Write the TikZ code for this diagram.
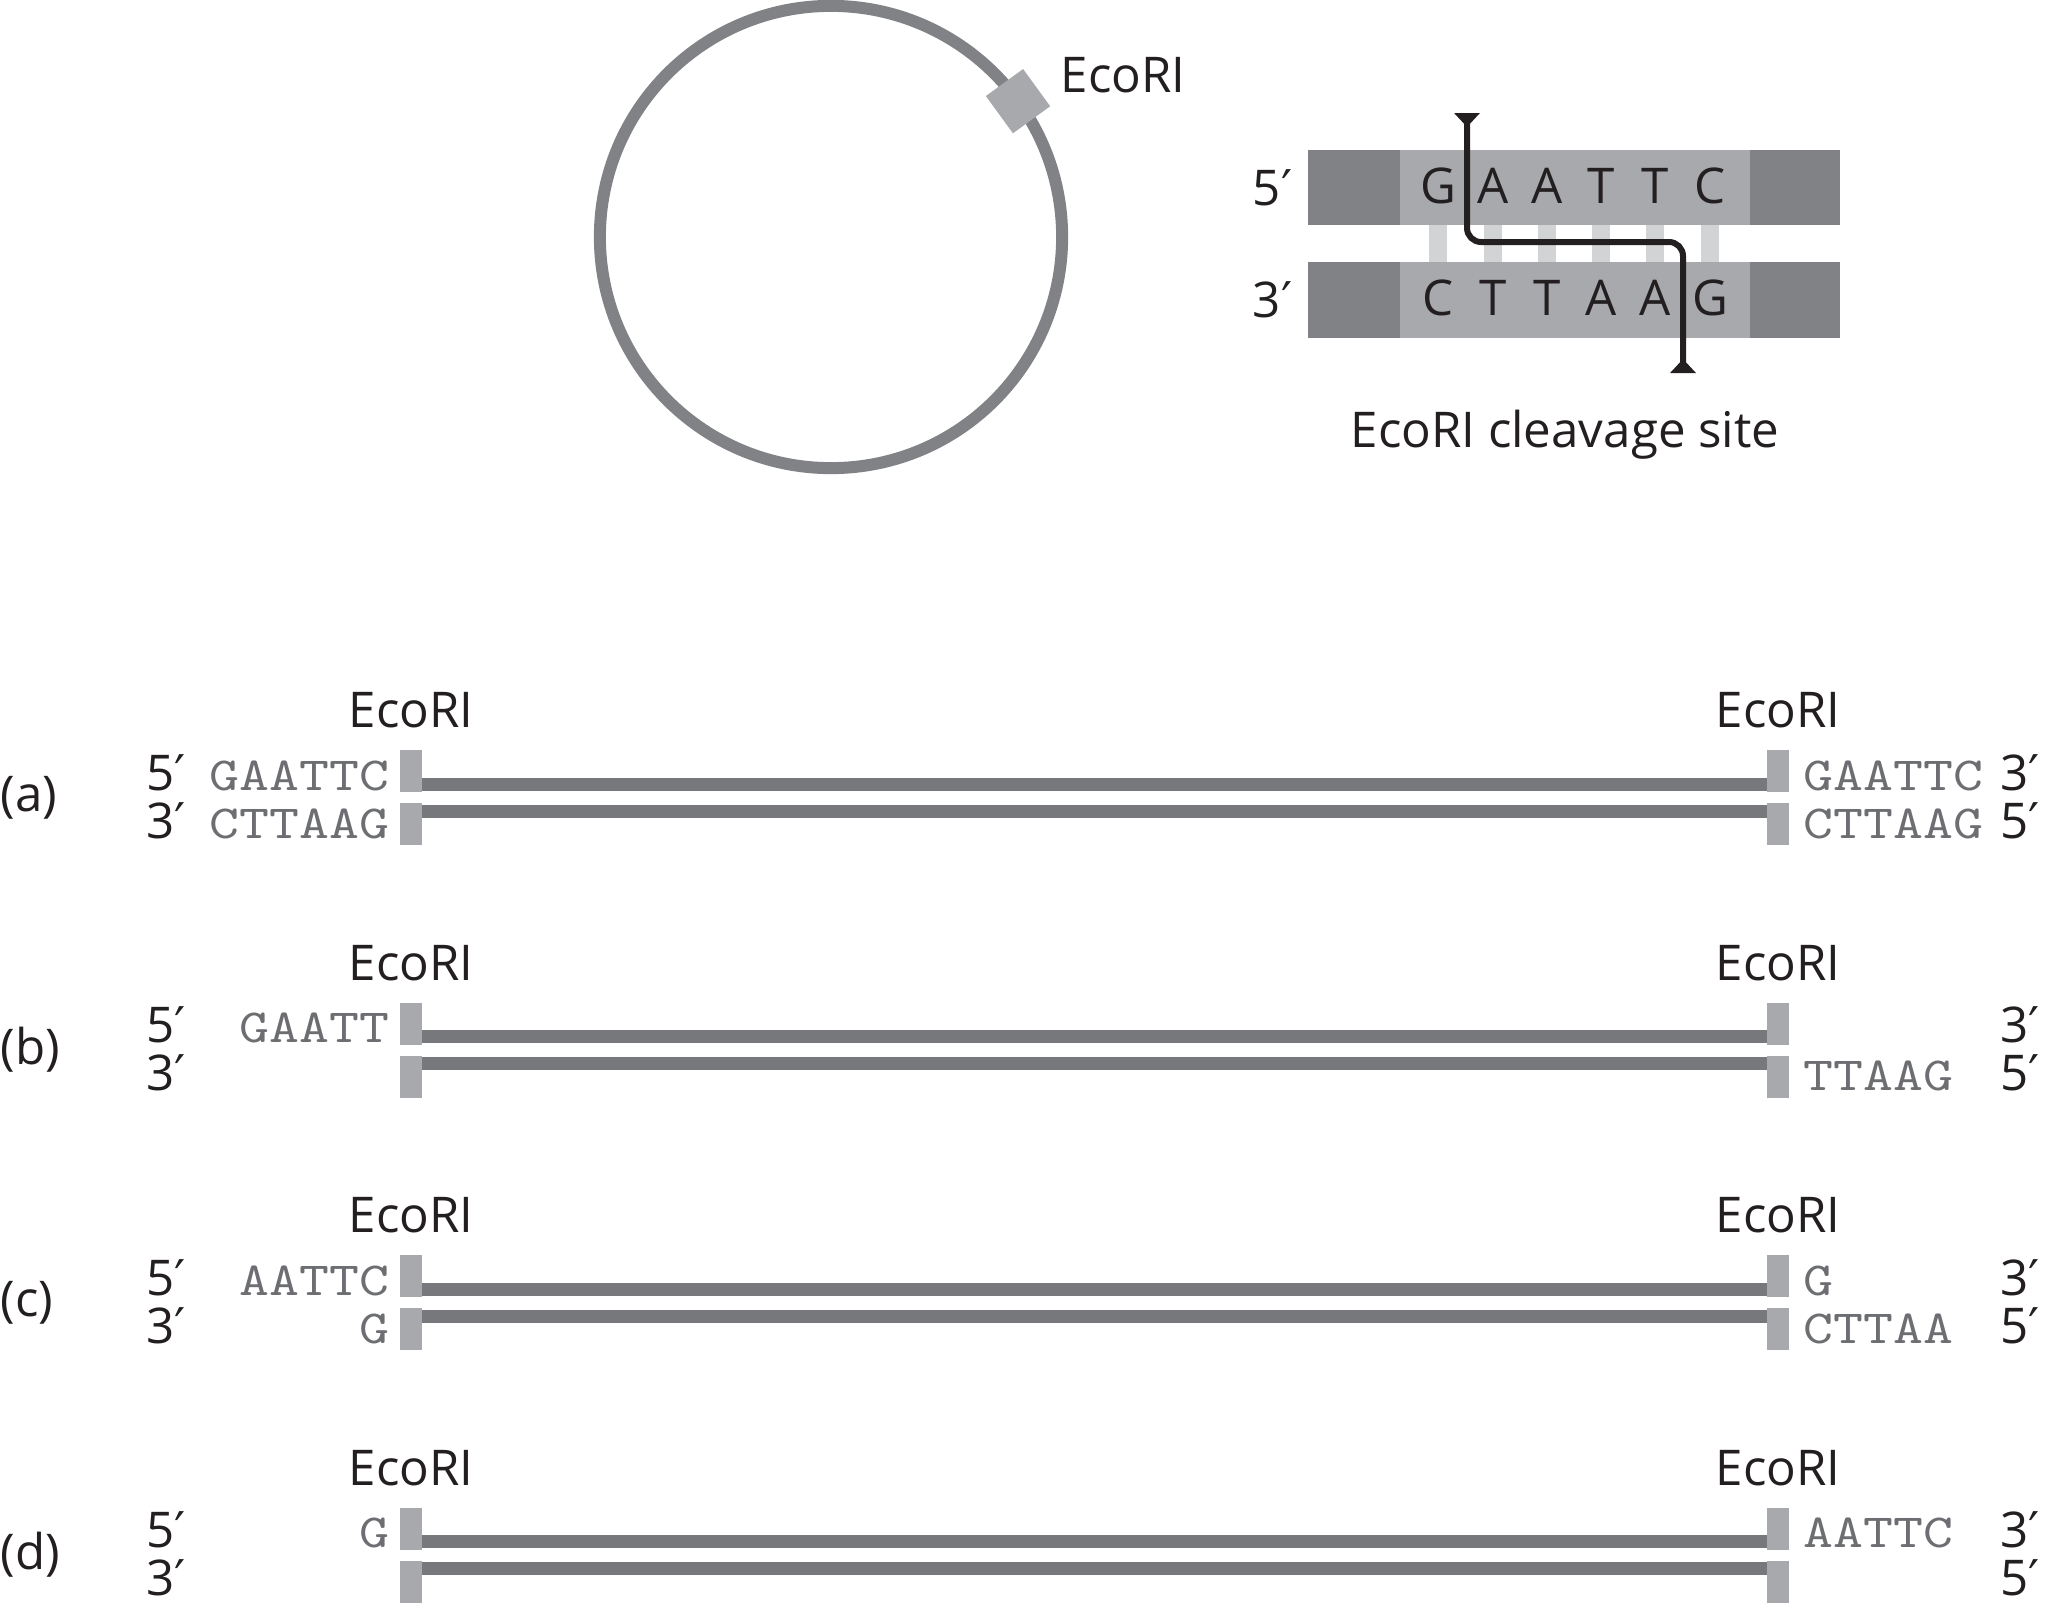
\documentclass[tikz,border=0pt]{standalone}
\usepackage{fontspec}
\setmainfont{Open Sans}
\newfontfamily\seqfont{lmmono10-regular}[Extension=.otf, FakeStretch=1.2]
\newfontfamily\primefont{DejaVu Sans}
\newcommand{\prm}{\smash{\primefont\fontsize{14}{16}\selectfont ′}}
\usetikzlibrary{positioning,arrows.meta}

\definecolor{inkdark}{HTML}{231F20}
\definecolor{seqgrey}{HTML}{6D6E71}
\definecolor{ringgrey}{HTML}{808285}
\definecolor{strandgrey}{HTML}{77787B}
\definecolor{bargrey}{HTML}{A7A9AC}
\definecolor{runggrey}{HTML}{D1D3D4}

\tikzset{
  txt/.style={font=\fontsize{14}{16}\selectfont, text=inkdark, inner sep=0pt},
  seq/.style={font=\seqfont\fontsize{13.5}{16}\selectfont, text=seqgrey, inner sep=0pt},
  endbar/.style={fill=bargrey, minimum width=0.22cm, minimum height=0.42cm, inner sep=0pt, outer sep=0pt},
  block/.style={inner sep=0pt, outer sep=0pt},
  sitebox/.style={fill=bargrey, minimum size=0.46cm, inner sep=0pt},
  strand/.style={draw=strandgrey, line width=0.13cm},
  rung/.style={draw=runggrey, line width=0.18cm},
  cutline/.style={draw=inkdark, line width=0.06cm, rounded corners=0.14cm,
    {Triangle[reversed, width=0.25cm, length=0.14cm]}-{Triangle[reversed, width=0.25cm, length=0.14cm]}},
}

\begin{document}
\begin{tikzpicture}[x=0.01cm, y=-0.01cm]
  \useasboundingbox (0,0) rectangle (2046,1618);

  % Plasmid with its single site
  \node (ring) [circle, draw=ringgrey, line width=0.12cm, minimum size=4.62cm, outer sep=0pt] at (831,237) {};
  \node (ringsite) [sitebox, rotate=36] at (ring.36) {};
  \node (ringlabel) [txt, anchor=west] at (1060,75) {EcoRI};

  % Cleavage site, top strand
  \node (topL) [block, fill=ringgrey, minimum width=0.92cm, minimum height=0.75cm] at (1354,187.5) {};
  \node (topM) [block, fill=bargrey, minimum width=3.50cm, minimum height=0.75cm, right=0pt of topL] {};
  \node (topR) [block, fill=ringgrey, minimum width=0.90cm, minimum height=0.75cm, right=0pt of topM] {};
  % Cleavage site, bottom strand
  \node (botL) [block, fill=ringgrey, minimum width=0.92cm, minimum height=0.76cm] at (1354,300) {};
  \node (botM) [block, fill=bargrey, minimum width=3.50cm, minimum height=0.76cm, right=0pt of botL] {};
  \node (botR) [block, fill=ringgrey, minimum width=0.90cm, minimum height=0.76cm, right=0pt of botM] {};

  % Bases
  \node (tG1) [txt, anchor=base] at (1438,203) {G};
  \node (tA2) [txt, anchor=base] at (1493,203) {A};
  \node (tA3) [txt, anchor=base] at (1547,203) {A};
  \node (tT4) [txt, anchor=base] at (1601,203) {T};
  \node (tT5) [txt, anchor=base] at (1655,203) {T};
  \node (tC6) [txt, anchor=base] at (1710,203) {C};
  \node (bC1) [txt, anchor=base] at (1438,315) {C};
  \node (bT2) [txt, anchor=base] at (1493,315) {T};
  \node (bT3) [txt, anchor=base] at (1547,315) {T};
  \node (bA4) [txt, anchor=base] at (1601,315) {A};
  \node (bA5) [txt, anchor=base] at (1655,315) {A};
  \node (bG6) [txt, anchor=base] at (1710,315) {G};

  % Base pairs
  \draw[rung] (tG1 |- topM.south) -- (bC1 |- botM.north);
  \draw[rung] (tA2 |- topM.south) -- (bT2 |- botM.north);
  \draw[rung] (tA3 |- topM.south) -- (bT3 |- botM.north);
  \draw[rung] (tT4 |- topM.south) -- (bA4 |- botM.north);
  \draw[rung] (tT5 |- topM.south) -- (bA5 |- botM.north);
  \draw[rung] (tC6 |- topM.south) -- (bG6 |- botM.north);

  % Cut
  \coordinate (cutTop) at (1467,113);
  \coordinate (cutMid) at (1575,242);
  \coordinate (cutBot) at (1683,373);
  \draw[cutline] (cutTop) |- (cutMid) -| (cutBot);

  \node (cl5) [txt, anchor=base east] at (1293,205) {5\prm};
  \node (cl3) [txt, anchor=base east] at (1293,317) {3\prm};
  \node (cleavcap) [txt, anchor=base] at (1565,447) {EcoRI cleavage site};

  % Row (a)
  \node (aName) [txt, anchor=west] at (0,797.5) {(a)};
  \node (aLt) [endbar] at (411,771) {};
  \node (aLb) [endbar] at (411,824) {};
  \node (aRt) [endbar] at (1778,771) {};
  \node (aRb) [endbar] at (1778,824) {};
  \node (aLsite) [txt, above=0.21cm of aLt] {EcoRI};
  \node (aRsite) [txt, above=0.21cm of aRt] {EcoRI};
  \node (aL5) [txt, anchor=base west] at (146,790) {5\prm};
  \node (aL3) [txt, anchor=base west] at (146,838) {3\prm};
  \node (aR3) [txt, anchor=base west] at (2000,790) {3\prm};
  \node (aR5) [txt, anchor=base west] at (2000,838) {5\prm};
  \node (aLseqt) [seq, anchor=base east] at (390,790) {GAATTC};
  \node (aLseqb) [seq, anchor=base east] at (390,838) {CTTAAG};
  \node (aRseqt) [seq, anchor=base west] at (1803,790) {GAATTC};
  \node (aRseqb) [seq, anchor=base west] at (1803,838) {CTTAAG};
  \draw[strand] ([yshift=0.08cm]aLt.south east) -- ([yshift=0.08cm]aRt.south west);
  \draw[strand] ([yshift=-0.08cm]aLb.north east) -- ([yshift=-0.08cm]aRb.north west);

  % Row (b)
  \node (bName) [txt, anchor=west] at (0,1050) {(b)};
  \node (bLt) [endbar] at (411,1023.5) {};
  \node (bLb) [endbar] at (411,1076.5) {};
  \node (bRt) [endbar] at (1778,1023.5) {};
  \node (bRb) [endbar] at (1778,1076.5) {};
  \node (bLsite) [txt, above=0.21cm of bLt] {EcoRI};
  \node (bRsite) [txt, above=0.21cm of bRt] {EcoRI};
  \node (bL5) [txt, anchor=base west] at (146,1042.5) {5\prm};
  \node (bL3) [txt, anchor=base west] at (146,1090.5) {3\prm};
  \node (bR3) [txt, anchor=base west] at (2000,1042.5) {3\prm};
  \node (bR5) [txt, anchor=base west] at (2000,1090.5) {5\prm};
  \node (bLseqt) [seq, anchor=base east] at (390,1042.5) {GAATT};
  \node (bRseqb) [seq, anchor=base west] at (1803,1090.5) {TTAAG};
  \draw[strand] ([yshift=0.08cm]bLt.south east) -- ([yshift=0.08cm]bRt.south west);
  \draw[strand] ([yshift=-0.08cm]bLb.north east) -- ([yshift=-0.08cm]bRb.north west);

  % Row (c)
  \node (cName) [txt, anchor=west] at (0,1302.5) {(c)};
  \node (cLt) [endbar] at (411,1276) {};
  \node (cLb) [endbar] at (411,1329) {};
  \node (cRt) [endbar] at (1778,1276) {};
  \node (cRb) [endbar] at (1778,1329) {};
  \node (cLsite) [txt, above=0.21cm of cLt] {EcoRI};
  \node (cRsite) [txt, above=0.21cm of cRt] {EcoRI};
  \node (cL5) [txt, anchor=base west] at (146,1295) {5\prm};
  \node (cL3) [txt, anchor=base west] at (146,1343) {3\prm};
  \node (cR3) [txt, anchor=base west] at (2000,1295) {3\prm};
  \node (cR5) [txt, anchor=base west] at (2000,1343) {5\prm};
  \node (cLseqt) [seq, anchor=base east] at (390,1295) {AATTC};
  \node (cLseqb) [seq, anchor=base east] at (390,1343) {G};
  \node (cRseqt) [seq, anchor=base west] at (1803,1295) {G};
  \node (cRseqb) [seq, anchor=base west] at (1803,1343) {CTTAA};
  \draw[strand] ([yshift=0.08cm]cLt.south east) -- ([yshift=0.08cm]cRt.south west);
  \draw[strand] ([yshift=-0.08cm]cLb.north east) -- ([yshift=-0.08cm]cRb.north west);

  % Row (d)
  \node (dName) [txt, anchor=west] at (0,1555) {(d)};
  \node (dLt) [endbar] at (411,1528.5) {};
  \node (dLb) [endbar] at (411,1581.5) {};
  \node (dRt) [endbar] at (1778,1528.5) {};
  \node (dRb) [endbar] at (1778,1581.5) {};
  \node (dLsite) [txt, above=0.21cm of dLt] {EcoRI};
  \node (dRsite) [txt, above=0.21cm of dRt] {EcoRI};
  \node (dL5) [txt, anchor=base west] at (146,1547.5) {5\prm};
  \node (dL3) [txt, anchor=base west] at (146,1595.5) {3\prm};
  \node (dR3) [txt, anchor=base west] at (2000,1547.5) {3\prm};
  \node (dR5) [txt, anchor=base west] at (2000,1595.5) {5\prm};
  \node (dLseqt) [seq, anchor=base east] at (390,1547.5) {G};
  \node (dRseqt) [seq, anchor=base west] at (1803,1547.5) {AATTC};
  \draw[strand] ([yshift=0.08cm]dLt.south east) -- ([yshift=0.08cm]dRt.south west);
  \draw[strand] ([yshift=-0.08cm]dLb.north east) -- ([yshift=-0.08cm]dRb.north west);
\end{tikzpicture}
\end{document}
